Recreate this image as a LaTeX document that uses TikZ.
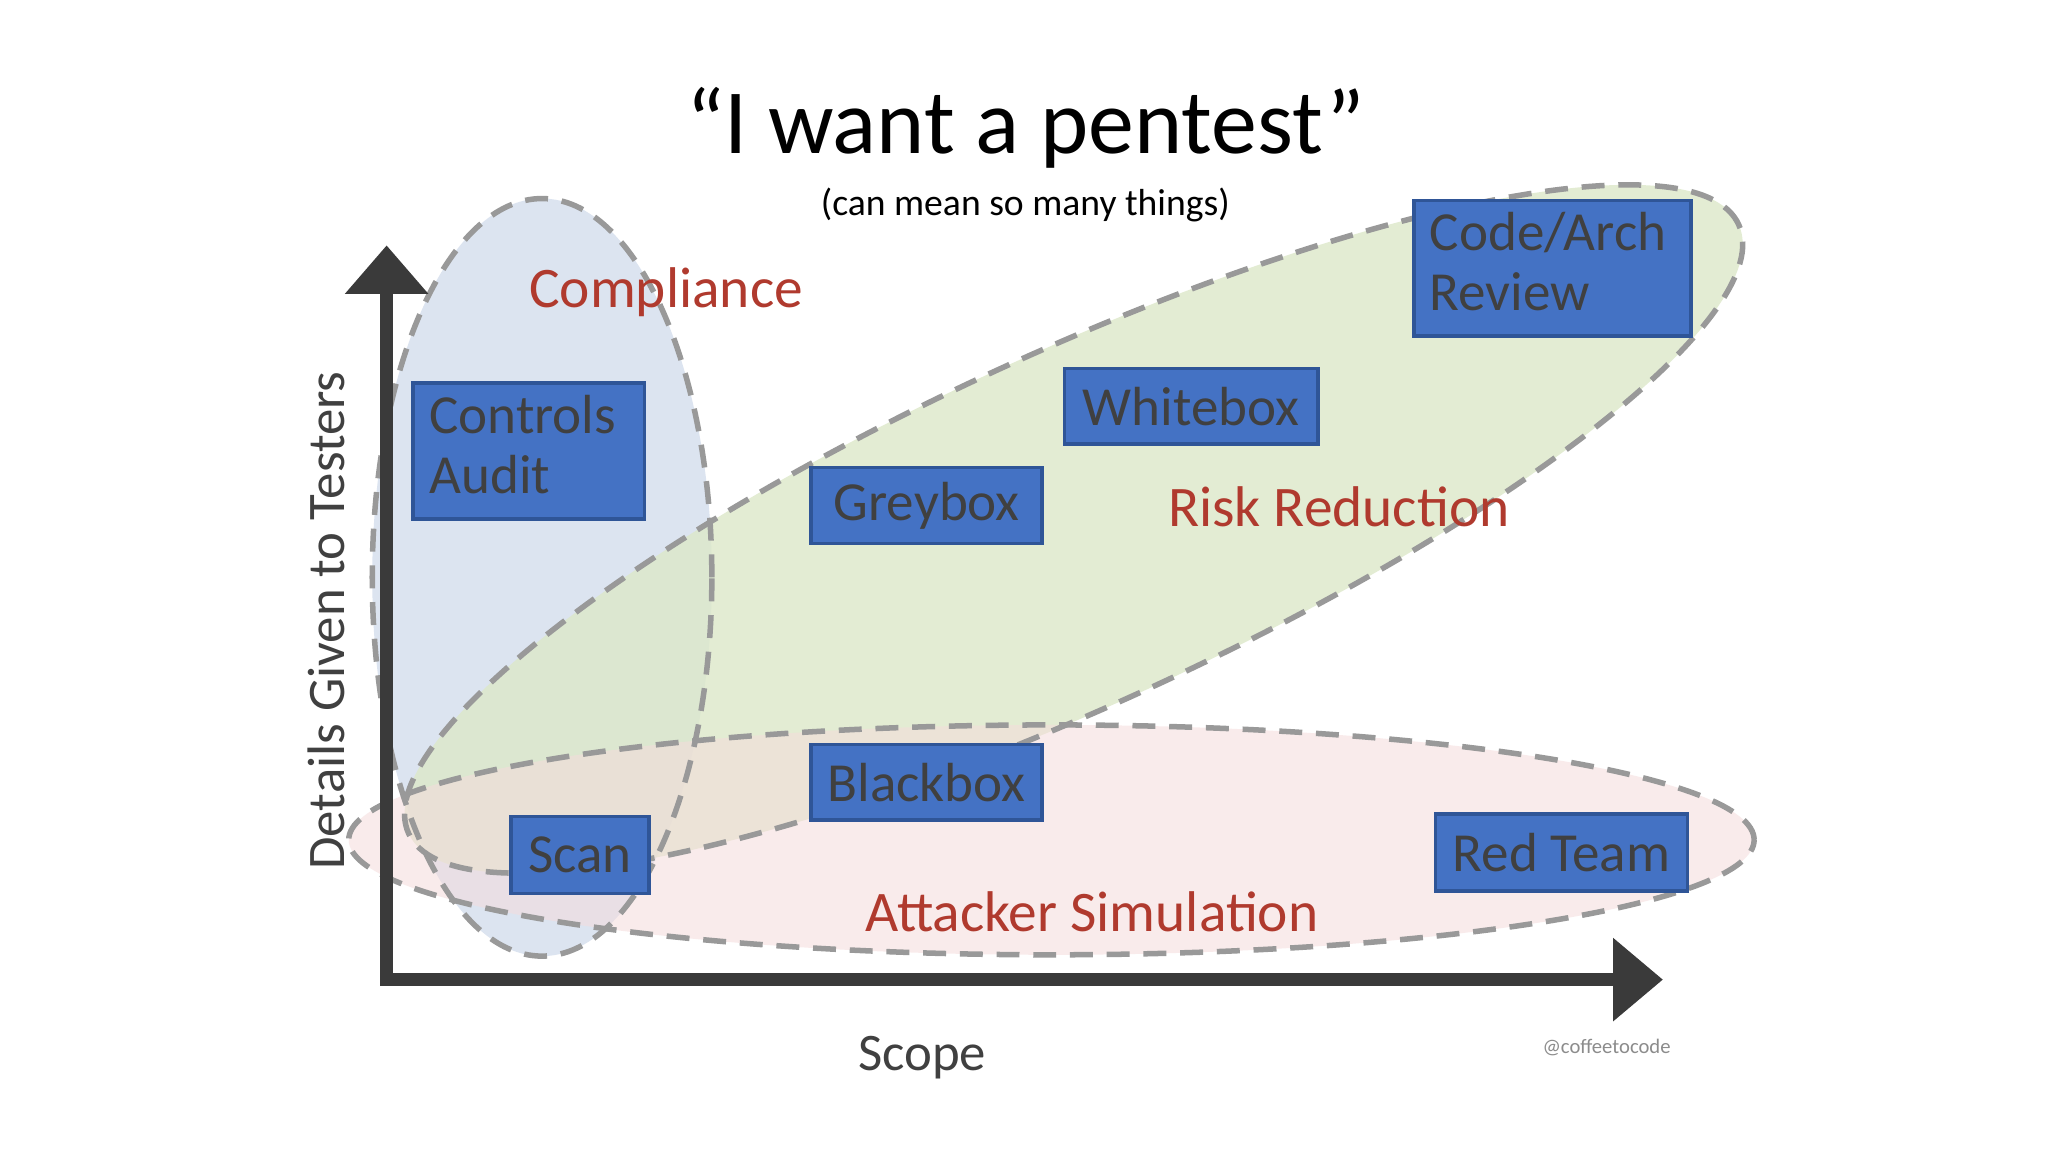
\documentclass[tikz,border=0pt]{standalone}
\usepackage{fontspec}
\setmainfont{Carlito}
\definecolor{boxblue}{HTML}{4472C4}
\definecolor{boxedge}{HTML}{2F5597}
\definecolor{lab}{HTML}{B03A2E}
\definecolor{axis}{HTML}{3A3A3A}
\definecolor{compfill}{HTML}{DCE4F0}
\definecolor{riskfill}{HTML}{DCE8C8}
\definecolor{attfill}{HTML}{F5DCDC}
\tikzset{
 tbox/.style={draw=boxedge,fill=boxblue,line width=0.8pt,text=black!75,font=\fontsize{12}{13}\selectfont,align=left,anchor=north west,inner sep=0pt},
 cat/.style={text=lab,font=\fontsize{12.5}{14}\selectfont},
 oval/.style={draw=black!40,line width=1.2pt,dash pattern=on 5pt off 3pt}
}
\begin{document}
\begin{tikzpicture}
\useasboundingbox (0,0) rectangle (15.68,-8.82);
\fill[white] (0,0) rectangle (15.68,-8.82);
% ellipses
\fill[compfill] (4.15,-4.42) ellipse (1.3 and 2.9);
\fill[riskfill,opacity=0.8,rotate around={24.6:(8.22,-4.05)}] (8.22,-4.05) ellipse (5.6 and 1.35);
\fill[attfill,opacity=0.55] (8.05,-6.43) ellipse (5.38 and 0.88);
\draw[oval] (4.15,-4.42) ellipse (1.3 and 2.9);
\draw[oval,rotate around={24.6:(8.22,-4.05)}] (8.22,-4.05) ellipse (5.6 and 1.35);
\draw[oval] (8.05,-6.43) ellipse (5.38 and 0.88);
% axes
\draw[axis,line width=0.1cm] (2.96,-7.5) -- (2.96,-2.2);
\fill[axis] (2.96,-1.88) -- (3.28,-2.25) -- (2.64,-2.25) -- cycle;
\draw[axis,line width=0.1cm] (2.91,-7.5) -- (12.4,-7.5);
\fill[axis] (12.73,-7.5) -- (12.35,-7.18) -- (12.35,-7.82) -- cycle;
% texts
\node (title) at (7.85,-0.98) {\fontsize{20}{22}\selectfont “I want a pentest”};
\node (sub) at (7.85,-1.57) {\fontsize{8.2}{9}\selectfont (can mean so many things)};
\node[rotate=90,text=black!75] (ylab) at (2.5,-4.75) {\fontsize{11.5}{13}\selectfont Details Given to Testers};
\node[text=black!75] (xlab) at (7.06,-8.1) {\fontsize{11.5}{13}\selectfont Scope};
\node[text=black!45] (cred) at (12.3,-8.02) {\fontsize{4.5}{5}\selectfont @coffeetocode};
\node[cat] (comp) at (5.1,-2.24) {Compliance};
\node[cat] (risk) at (10.25,-3.88) {Risk Reduction};
\node[cat] (att) at (8.36,-6.98) {Attacker Simulation};
% boxes
\node[tbox,minimum width=1.77cm,minimum height=1.04cm] (ca) at (3.15,-2.92) {};
\node[anchor=north west,align=left,text=black!75,font=\fontsize{12}{13}\selectfont,inner sep=0pt] (cat) at (3.28,-3.02) {Controls\\Audit};
\node[tbox,minimum width=2.12cm,minimum height=1.04cm] (cr) at (10.81,-1.52) {};
\node[anchor=north west,align=left,text=black!75,font=\fontsize{12}{13}\selectfont,inner sep=0pt] (crt) at (10.94,-1.62) {Code/Arch\\Review};
\node[tbox,anchor=center,minimum width=1.94cm,minimum height=0.58cm] (wb) at (9.12,-3.11) {Whitebox};
\node[tbox,anchor=center,minimum width=1.77cm,minimum height=0.58cm] (gb) at (7.095,-3.87) {Greybox};
\node[tbox,anchor=center,minimum width=1.77cm,minimum height=0.58cm] (bb) at (7.095,-5.99) {Blackbox};
\node[tbox,anchor=center,minimum width=1.06cm,minimum height=0.59cm] (sc) at (4.44,-6.545) {Scan};
\node[tbox,anchor=center,minimum width=1.93cm,minimum height=0.59cm] (rt) at (11.955,-6.525) {Red Team};
\end{tikzpicture}
\end{document}
